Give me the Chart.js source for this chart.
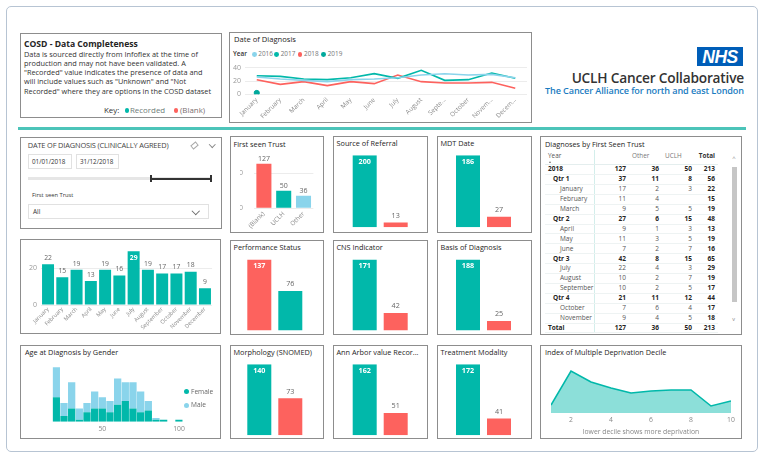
<!DOCTYPE html>
<html><head><meta charset="utf-8">
<script src="https://cdn.jsdelivr.net/npm/chart.js@4.4.0/dist/chart.umd.min.js"></script>
<style>
body{margin:0;background:#fff;font-family:'Open Sans',sans-serif;color:#252423;}
#page{position:relative;width:768px;height:460px;overflow:hidden;background:#fff;}
#page div{position:absolute;white-space:nowrap;}
canvas{position:absolute;}
</style></head><body><div id="page"></div>
<script>
// ---------------- DATA ----------------
const months = ['January','February','March','April','May','June','July','August','September','October','November','December'];
const lineTickLabels = ['January','February','March','April','May','June','July','August','Septe...','October','Novem...','Decem...'];
const years = ['2016','2017','2018','2019'];
const diag2016 = [26,23,21,19,22,23,25,29,31,29,30,25];
const diag2017 = [28,27,23,22,25,31,24,36,21,22,32,24];
const diag2018 = [22,15,19,13,19,16,29,19,17,17,18,9];
const diag2019 = [2,null,null,null,null,null,null,null,null,null,null,null];
const lineTicksY = [0,20,40];

const monthly2018 = [22,15,19,13,19,16,29,19,17,17,18,9];

const trustLabels = ['(Blank)','UCLH','Other'];
const trustValues = [127,50,36];

const fieldTitles = ['Source of Referral','MDT Date','Performance Status','CNS Indicator','Basis of Diagnosis','Morphology (SNOMED)','Ann Arbor value Recor...','Treatment Modality'];
const recordedCounts = [200,186,76,171,188,140,162,172];
const blankCounts = [13,27,137,42,25,73,51,41];

const ageBins = ['20','25','30','35','40','45','50','55','60','65','70','75','80','85','90','95','100'];
const ageTickLabels = ['50','100'];
const ageFemale = [13,3,7,1,5,7,7,5,9,11,7,5,6,1,1,0,1];
const ageMale   = [16,7,14,6,5,9,6,6,14,10,14,11,5,1,0,0,0];

const imdDeciles = [1,2,3,4,5,6,7,8,9,10];
const imdCounts = [8,42,31,25,20,22,23,23,7,12];

const tableHeaders = ['Year','','Other','UCLH','Total'];
const tableRows  = ['2018','Qtr 1','January','February','March','Qtr 2','April','May','June','Qtr 3','July','August','September','Qtr 4','October','November','Total'];
const rowLevel   = [0,1,2,2,2,1,2,2,2,1,2,2,2,1,2,2,0];
const colBlank   = [127,37,17,11,9,27,9,11,7,42,22,10,10,21,7,9,127];
const colOther   = [36,11,2,4,5,6,1,3,2,8,4,2,2,11,6,4,36];
const colUCLH    = [50,8,3,null,5,15,3,5,7,15,3,7,5,12,4,5,50];
const colTotal   = [213,56,22,15,19,48,13,19,16,65,29,19,17,44,17,18,213];

// ---------------- STYLE ----------------
const TEAL='#01B8AA', RED='#FD625E', LBLUE='#8AD4EB', TEAL2='#01A99C';
const FONT="'Open Sans', sans-serif";
Chart.defaults.font.family = FONT;
Chart.defaults.color = '#8a8a8a';
const TS=7.3; // panel title size

const page = document.getElementById('page');
function div(x,y,css,txt){const d=document.createElement('div');d.style.cssText=`left:${x}px;top:${y}px;${css||''}`;if(txt!=null)d.textContent=txt;page.appendChild(d);return d;}
function box(x,y,w,h){return div(x,y,`width:${w}px;height:${h}px;border:1px solid #8d8d8d;box-sizing:border-box;`);}
function txt(x,yc,s,size,css){return div(x,yc-size*0.6,`font-size:${size}px;line-height:${(size*1.2).toFixed(2)}px;${css||''}`,s);}
function rtxt(xr,yc,s,size,css){const d=txt(xr,yc,s,size,css);d.style.transform='translateX(-100%)';return d;}
function dot(cx,cy,r,c){return div(cx-r,cy-r,`width:${2*r}px;height:${2*r}px;border-radius:50%;background:${c};`);}
function canvasAt(x,y,w,h){const c=document.createElement('canvas');c.width=w;c.height=h;c.style.cssText=`left:${x}px;top:${y}px;width:${w}px;height:${h}px`;page.appendChild(c);return c;}

// label plugin
const barLabels={id:'barLabels',afterDatasetsDraw(chart,args,o){
  if(!o||!o.display)return;const ctx=chart.ctx,ca=chart.chartArea,fs=o.size||7;
  ctx.save();ctx.textAlign='center';ctx.textBaseline='middle';
  chart.data.datasets.forEach((ds,di)=>{const meta=chart.getDatasetMeta(di);
    meta.data.forEach((el,i)=>{const v=ds.data[i];if(v==null||v===0)return;
      const inside=(el.y-o.gap-fs)<ca.top-(o.headroom||0);
      if(inside){ctx.fillStyle='#fff';ctx.font=`bold ${fs}px ${FONT}`;ctx.fillText(v,el.x,el.y+(o.inGap||6));}
      else{ctx.fillStyle=o.color||'#666';ctx.font=`${fs}px ${FONT}`;ctx.fillText(v,el.x,el.y-o.gap-fs/2);}
    });});
  ctx.restore();}};
Chart.register(barLabels);
const base={responsive:false,animation:false,devicePixelRatio:1,plugins:{legend:{display:false},tooltip:{enabled:false}}};

// outer frame
div(6,6,'width:752px;height:446px;border:1px solid #b7c4d3;border-radius:5px;box-sizing:border-box;');

// ---------------- COSD text box ----------------
box(20,33,202,85);
txt(24,43.7,'COSD - Data Completeness',8.6,'font-weight:700;color:#252423;');
const cosdLines=['Data is sourced directly from Infoflex at the time of','production and may not have been validated. A','"Recorded" value indicates the presence of data and','will include values such as "Unknown" and "Not','Recorded" where they are options in the COSD dataset'];
cosdLines.forEach((l,i)=>txt(24,54.3+i*9.2,l,7.35,'color:#333;'));
txt(104,110.3,'Key:',7.9,'color:#333;');
dot(127.3,110.5,2.2,TEAL);txt(130,110.3,'Recorded',7.9,'color:#6f7d7a;');
dot(176,110.5,2.2,RED);txt(180,110.3,'(Blank)',7.9,'color:#7a6f6f;');

// ---------------- Line chart ----------------
box(229,32,303,91);
txt(234,40,'Date of Diagnosis',7.6,'color:#252423;');
txt(233,54.3,'Year',6.4,'color:#333;font-weight:600;');
const yrCols=[LBLUE,TEAL,RED,TEAL2];
[254.3,276.7,300,323.7].forEach((x,i)=>{dot(x,54.5,2.4,yrCols[i]);txt(x+4,54.3,years[i],6.4,'color:#777;');});
new Chart(canvasAt(229,32,303,91),{type:'line',
  data:{labels:months,datasets:[
    {data:diag2016,borderColor:LBLUE,backgroundColor:LBLUE},
    {data:diag2017,borderColor:TEAL,backgroundColor:TEAL},
    {data:diag2018,borderColor:RED,backgroundColor:RED},
    {data:diag2019,borderColor:TEAL2,backgroundColor:TEAL2,pointRadius:2.6,showLine:false}]},
  options:{...base,layout:{padding:{left:2,right:2,top:35.7,bottom:0}},
    elements:{line:{borderWidth:1.6,tension:0},point:{radius:0}},
    scales:{
      x:{offset:true,grid:{display:false,drawTicks:false},border:{display:false},
         ticks:{autoSkip:false,minRotation:45,maxRotation:45,padding:2,font:{size:6.3},color:'#888',callback:(v,i)=>lineTickLabels[i]},
         afterFit:s=>{s.height=28.7;}},
      y:{min:lineTicksY[0],max:lineTicksY[lineTicksY.length-1],ticks:{stepSize:20,padding:4,font:{size:7},color:'#999'},
         grid:{color:'#ececec',drawTicks:false},border:{display:false},afterFit:s=>{s.width=14;}}}}});

// ---------------- NHS logo ----------------
div(697,47,'width:46px;height:19px;background:#005EB8;');
div(697,46.5,"width:46px;text-align:center;font-family:'Liberation Sans',Arial,sans-serif;font-weight:700;font-style:italic;font-size:17.5px;line-height:20px;color:#fff;letter-spacing:-0.5px;",'NHS');
rtxt(744,78.3,'UCLH Cancer Collaborative',13.7,'font-weight:600;color:#333;letter-spacing:-0.2px;');
rtxt(744,91.7,'The Cancer Alliance for north and east London',9.1,'font-weight:600;color:#1a7cc1;letter-spacing:-0.1px;');

// separator
div(18,127,'width:728px;height:2.5px;background:#4cc4b9;');

// ---------------- Slicer ----------------
box(20,137,202,92);
txt(27.7,145,'DATE OF DIAGNOSIS (CLINICALLY AGREED)',7.4,'color:#444;letter-spacing:-0.15px;');
div(191,143,'width:5px;height:3px;border:1px solid #aaa;transform:rotate(-40deg);');
div(209.5,142,'width:3.5px;height:3.5px;border-right:1px solid #888;border-bottom:1px solid #888;transform:rotate(45deg);');
div(28,154,'width:44px;height:15px;border:1px solid #e1e1e1;box-sizing:border-box;');
div(76,154,'width:43px;height:15px;border:1px solid #e1e1e1;box-sizing:border-box;');
txt(32,161.5,'01/01/2018',6.3,'color:#333;');
txt(80,161.5,'31/12/2018',6.3,'color:#333;');
div(28,177,'width:183px;height:3px;background:#e6e6e6;');
div(150,177.5,'width:61px;height:2px;background:#333;');
div(149.5,175,'width:2px;height:7px;background:#333;');
div(210,175,'width:2px;height:7px;background:#333;');
txt(32,195.7,'First seen Trust',5.8,'color:#333;');
div(28,204,'width:181px;height:15px;border:1px solid #e1e1e1;box-sizing:border-box;');
txt(33,211.5,'All',6.5,'color:#333;');
div(193,208,'width:4.5px;height:4.5px;border-right:1px solid #666;border-bottom:1px solid #666;transform:rotate(45deg);');

// ---------------- Monthly bar chart ----------------
box(20,239,201,95);
new Chart(canvasAt(20,239,201,95),{type:'bar',
  data:{labels:months,datasets:[{data:monthly2018,backgroundColor:TEAL,barPercentage:0.84,categoryPercentage:1}]},
  options:{...base,layout:{padding:{left:6.9,right:8.9,top:10.5,bottom:0}},
    plugins:{...base.plugins,barLabels:{display:true,size:6.8,gap:2.8,inGap:7,color:'#666'}},
    scales:{
      x:{grid:{display:false,drawTicks:false},border:{display:false},
         ticks:{autoSkip:false,minRotation:45,maxRotation:45,padding:1,font:{size:5.6},color:'#888'},afterFit:s=>{s.height=29;}},
      y:{min:0,max:30,ticks:{stepSize:20,includeBounds:false,padding:4,font:{size:7},color:'#999'},
         grid:{color:'#ececec',drawTicks:false},border:{display:false},afterFit:s=>{s.width=14;}}}}});

// ---------------- First seen Trust ----------------
box(230,136,94,97);
txt(233.5,144,'First seen Trust',TS,'color:#252423;');
new Chart(canvasAt(230,136,94,97),{type:'bar',
  data:{labels:trustLabels,datasets:[{data:trustValues,backgroundColor:[RED,TEAL,LBLUE],barPercentage:0.76,categoryPercentage:1}]},
  options:{...base,layout:{padding:{left:10,right:10.6,top:19.8,bottom:0}},
    plugins:{...base.plugins,barLabels:{display:true,size:7,gap:1.2,headroom:12,color:'#666'}},
    scales:{
      x:{grid:{display:false,drawTicks:false},border:{display:false},
         ticks:{autoSkip:false,minRotation:45,maxRotation:45,padding:2,font:{size:6.3},color:'#888'},afterFit:s=>{s.height=24.7;}},
      y:{min:0,max:150,ticks:{stepSize:100,includeBounds:false,padding:11,font:{size:7},color:'#999'},
         grid:{color:'#ececec',drawTicks:false},border:{display:false},afterFit:s=>{s.width=14;}}}}});

// ---------------- Completeness small charts ----------------
const colBoxes=[[230,94],[333,95],[437,95]];
const colAreaLeft=[243.8,349.2,452.5];
const rowBoxes=[{y:136,h:97,top:155.3,base:227.3},{y:240,h:95,top:259.5,base:330.5},{y:345,h:94,top:364.3,base:435.3}];
const fieldPos=[[1,0],[2,0],[0,1],[1,1],[2,1],[0,2],[1,2],[2,2]];
fieldTitles.forEach((title,i)=>{
  const [c,r]=fieldPos[i];const [bx,bw]=colBoxes[c];const rb=rowBoxes[r];
  box(bx,rb.y,bw,rb.h);
  txt(bx+3.5,rb.y+7.7,title,TS,'color:#252423;');
  const pairs=[['Recorded',recordedCounts[i],TEAL],['(Blank)',blankCounts[i],RED]].sort((a,b)=>b[1]-a[1]);
  const left=colAreaLeft[c]-bx, right=bx+bw-(colAreaLeft[c]+62);
  new Chart(canvasAt(bx,rb.y,bw,rb.h),{type:'bar',
    data:{labels:pairs.map(p=>p[0]),datasets:[{data:pairs.map(p=>p[1]),backgroundColor:pairs.map(p=>p[2]),barPercentage:0.774,categoryPercentage:1}]},
    options:{...base,layout:{padding:{left:left,right:right,top:rb.top-rb.y,bottom:rb.y+rb.h-rb.base}},
      plugins:{...base.plugins,barLabels:{display:true,size:7.2,gap:3.2,inGap:6.3,color:'#666'}},
      scales:{x:{display:false},y:{display:false,min:0,max:Math.max(recordedCounts[i],blankCounts[i])}}}});
});

// ---------------- Table ----------------
box(540,136,202,199);
txt(545,144,'Diagnoses by First Seen Trust',TS,'color:#252423;');
const colRight=[null,626,659,692,715];
txt(548,156,tableHeaders[0],6.4,'color:#555;');
div(549,160.5,'width:0;height:0;border-left:1.5px solid transparent;border-right:1.5px solid transparent;border-bottom:2px solid #777;');
txt(632,156,tableHeaders[2],6.4,'color:#777;');
txt(665,156,tableHeaders[3],6.4,'color:#777;');
rtxt(715,156,tableHeaders[4],6.4,'color:#333;font-weight:700;');
div(594,150,'width:1px;height:183px;background:#d3eeeb;');
div(545,163.5,'width:173px;height:1px;background:#e4eeee;');
const indent=[548,553,560];
tableRows.forEach((r,i)=>{
  const y=169.3+i*9.9, bold=rowLevel[i]<2;
  const w=bold?'font-weight:700;color:#252423;':'color:#555;';
  txt(indent[rowLevel[i]],y,r,6.5,w);
  [colBlank,colOther,colUCLH].forEach((col,k)=>{if(col[i]!=null)rtxt(colRight[k+1],y,String(col[i]),6.5,w);});
  rtxt(colRight[4],y,String(colTotal[i]),6.5,'font-weight:700;color:#252423;');
  div(545,y+4.7,'width:173px;height:1px;background:#eef3f3;');
});
div(732,166.7,'width:5px;height:135px;background:#c6c6c6;');
txt(732.2,158.3,'^',6,'color:#888;');
txt(732.2,319.3,'v',5.5,'color:#888;');

// ---------------- Age histogram ----------------
box(20,345,201,94);
txt(25,352.7,'Age at Diagnosis by Gender',TS,'color:#252423;');
new Chart(canvasAt(20,345,201,94),{type:'bar',
  data:{labels:ageBins,datasets:[
    {label:'Female',data:ageFemale,backgroundColor:TEAL,barPercentage:0.95,categoryPercentage:1},
    {label:'Male',data:ageMale,backgroundColor:LBLUE,barPercentage:0.95,categoryPercentage:1}]},
  options:{...base,layout:{padding:{left:32.5,right:38.2,top:20.3,bottom:0}},
    scales:{
      x:{stacked:true,grid:{display:false,drawTicks:false},border:{display:false},
         ticks:{autoSkip:false,maxRotation:0,padding:3,font:{size:6.8},color:'#888',callback:(v,i)=>ageTickLabels.includes(ageBins[i])?ageBins[i]:''},
         afterFit:s=>{s.height=17.3;}},
      y:{stacked:true,display:false,min:0,max:30}}}});
dot(186.7,391.7,2.5,TEAL);txt(191,391.5,'Female',6.6,'color:#666;');
dot(186.7,405,2.5,LBLUE);txt(191,404.8,'Male',6.6,'color:#666;');

// ---------------- IMD area ----------------
box(540,345,202,94);
txt(545,352.7,'Index of Multiple Deprivation Decile',TS,'color:#252423;');
new Chart(canvasAt(540,345,202,94),{type:'line',
  data:{datasets:[{data:imdDeciles.map((d,i)=>({x:d,y:imdCounts[i]})),borderColor:TEAL,borderWidth:1.6,
    backgroundColor:'rgba(1,184,170,0.45)',fill:'origin',pointRadius:0,tension:0}]},
  options:{...base,layout:{padding:{left:11,right:11,top:23,bottom:0}},
    scales:{
      x:{type:'linear',min:1,max:10,grid:{display:false,drawTicks:false},border:{display:false},
         ticks:{stepSize:2,includeBounds:false,padding:3,font:{size:6.8},color:'#888'},
         title:{display:true,text:'lower decile shows more deprivation',font:{size:6.8},color:'#888',padding:{top:0,bottom:3}},
         afterFit:s=>{s.height=26;}},
      y:{display:false,min:0,max:45}}}});
</script></body></html>
